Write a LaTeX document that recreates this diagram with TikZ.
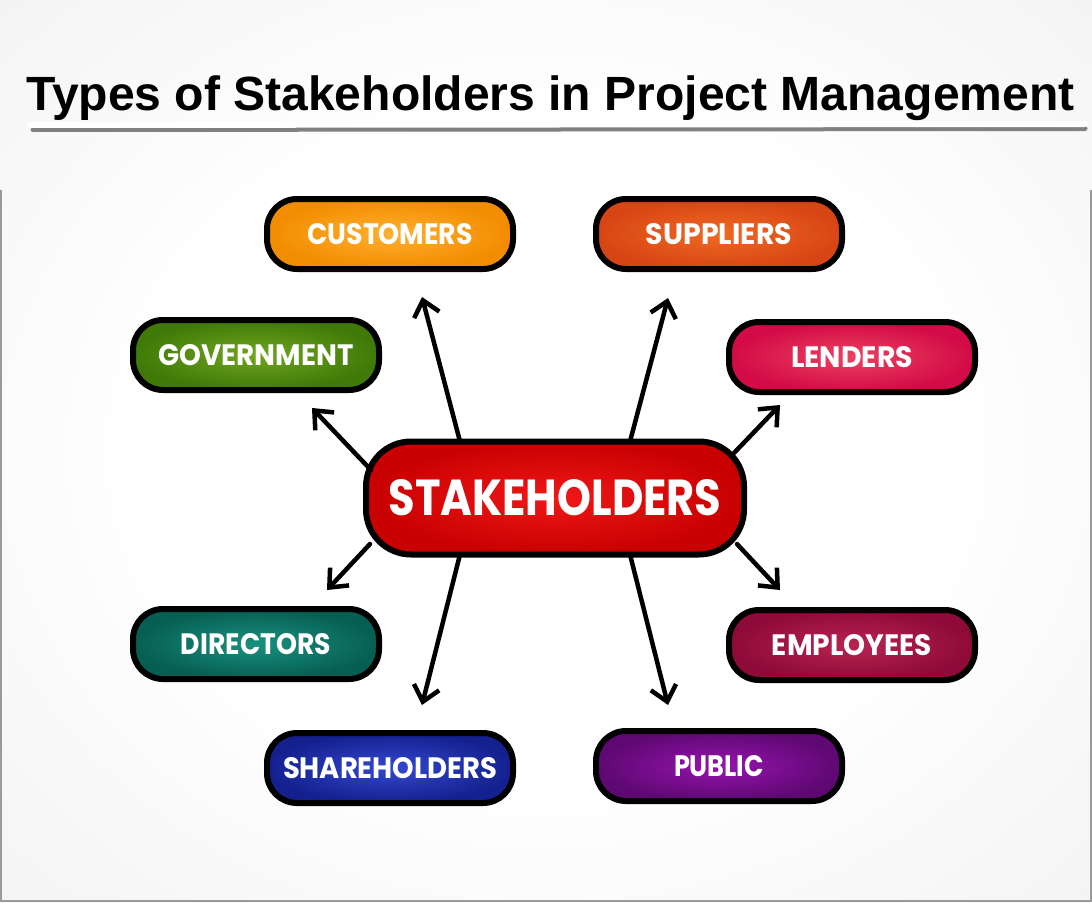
\documentclass[tikz,border=0pt]{standalone}
\usepackage{fontspec}
\setmainfont{Liberation Sans}
\newfontfamily\lblfont{Poppins}
\usetikzlibrary{arrows.meta,calc}
\definecolor{cusI}{HTML}{FFB030}\definecolor{cusO}{HTML}{F28C00}
\definecolor{supI}{HTML}{EE6A22}\definecolor{supO}{HTML}{D84515}
\definecolor{govI}{HTML}{6FA61E}\definecolor{govO}{HTML}{3F7A08}
\definecolor{lenI}{HTML}{EC4260}\definecolor{lenO}{HTML}{D20A46}
\definecolor{stkI}{HTML}{F01818}\definecolor{stkO}{HTML}{C80000}
\definecolor{dirI}{HTML}{18917F}\definecolor{dirO}{HTML}{075E52}
\definecolor{empI}{HTML}{B82452}\definecolor{empO}{HTML}{8E0A38}
\definecolor{shaI}{HTML}{3448D0}\definecolor{shaO}{HTML}{14208E}
\definecolor{pubI}{HTML}{9614AE}\definecolor{pubO}{HTML}{5E0872}
\definecolor{frame}{HTML}{9A9A9A}
\pgfdeclareradialshading{bgshade}{\pgfpoint{0bp}{0bp}}{color(0bp)=(white); color(18bp)=(white); color(50bp)=(black!8); color(72bp)=(black!8)}
\tikzset{
  box/.style={draw=black, line width=6pt, rounded corners=30pt,
    minimum width=246pt, minimum height=70pt, inner sep=0pt},
  arr/.style={line width=4.5pt, line cap=round,
    -{Straight Barb[length=15pt,width=26pt,line width=4.5pt]}},
}
\newcommand\lbl[3]{\resizebox{#1}{#2}{\lblfont\bfseries\color{white}#3}}
\begin{document}
\begin{tikzpicture}[x=1pt,y=-1pt]
\useasboundingbox (0,0) rectangle (1092,902);
\shade[shading=bgshade] (0,0) rectangle (1092,902);
\draw[frame, line width=2pt] (1,190) -- (1,901) -- (1091,901) -- (1091,190);

\node[anchor=base west, inner sep=0pt] (title) at (26,110)
  {\resizebox{1048pt}{!}{\bfseries Types of Stakeholders in Project Management}};
\draw[line width=5pt, black!50, line cap=round] (33,129.5) -- (1085,128.5);
\draw[line width=6pt, white, line cap=round] (30,125) -- (1085,124);

\node[box, inner color=stkI, outer color=stkO, minimum width=378pt, minimum height=113pt, rounded corners=45pt] (stk) at (555,498) {\lbl{333pt}{36pt}{STAKEHOLDERS}};
\node[box, inner color=cusI, outer color=cusO] (cus) at (390,234) {\lbl{165pt}{21pt}{CUSTOMERS}};
\node[box, inner color=supI, outer color=supO] (sup) at (719,234) {\lbl{146pt}{21pt}{SUPPLIERS}};
\node[box, inner color=govI, outer color=govO] (gov) at (256,355) {\lbl{195pt}{21pt}{GOVERNMENT}};
\node[box, inner color=lenI, outer color=lenO] (len) at (852,357) {\lbl{122pt}{21pt}{LENDERS}};
\node[box, inner color=dirI, outer color=dirO] (dir) at (256,644) {\lbl{150pt}{21pt}{DIRECTORS}};
\node[box, inner color=empI, outer color=empO] (emp) at (852,645) {\lbl{160pt}{21pt}{EMPLOYEES}};
\node[box, inner color=shaI, outer color=shaO] (sha) at (390,768) {\lbl{214pt}{21pt}{SHAREHOLDERS}};
\node[box, inner color=pubI, outer color=pubO] (pub) at (719,766) {\lbl{90pt}{21pt}{PUBLIC}};

\coordinate (tcus) at (422,297);
\coordinate (tsup) at (668,298);
\coordinate (tgov) at (312,408);
\coordinate (tlen) at (780,405);
\coordinate (tdir) at (327,590);
\coordinate (temp) at (780,590);
\coordinate (tsha) at (422,705);
\coordinate (tpub) at (668,705);

\draw[arr] ([xshift=-95pt,yshift=-3pt]stk.north) -- (tcus);
\draw[arr] ([xshift=75pt,yshift=-3pt]stk.north) -- (tsup);
\draw[arr] ($(stk.center)+(-184,-28)$) -- (tgov);
\draw[arr] ($(stk.center)+(179,-45)$) -- (tlen);
\draw[arr] ($(stk.center)+(-185,46)$) -- (tdir);
\draw[arr] ($(stk.center)+(182,46)$) -- (temp);
\draw[arr] ([xshift=-95pt,yshift=3pt]stk.south) -- (tsha);
\draw[arr] ([xshift=75pt,yshift=3pt]stk.south) -- (tpub);
\end{tikzpicture}
\end{document}
